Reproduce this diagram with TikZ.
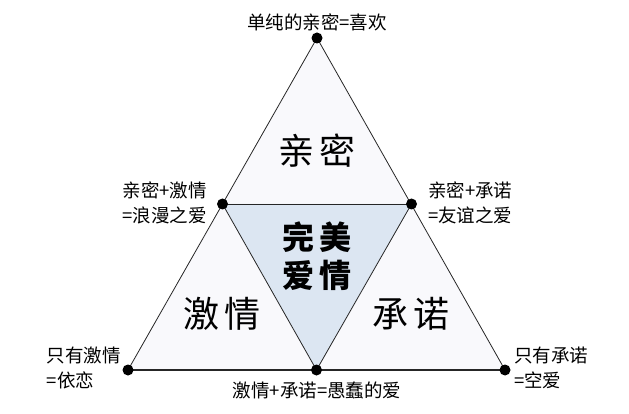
\documentclass[tikz,border=0pt]{standalone}
\usepackage{fontspec}
\setmainfont{Noto Sans CJK SC}
\usepackage{tikz}
\usetikzlibrary{positioning}

\definecolor{corefill}{RGB}{220,230,242}
\definecolor{outerfill}{RGB}{249,249,252}

\begin{document}
\begin{tikzpicture}[
    x=1pt, y=-1pt,
    dot/.style={circle, fill=black, inner sep=0pt, minimum size=11pt},
    edge/.style={draw=black!85, line width=0.8pt},
    note/.style={font=\fontsize{18.5}{25}\selectfont, align=left, inner sep=0pt},
    part/.style={font=\fontsize{36}{40}\selectfont, inner sep=0pt},
    core/.style={font=\bfseries\fontsize{32}{40}\selectfont, align=center, inner sep=0pt}
]
    \useasboundingbox (0,0) rectangle (629,414);

    % Corners and midpoints
    \coordinate (top) at (317,38);
    \coordinate (bl) at (128,370);
    \coordinate (br) at (505,370);
    \coordinate (ml) at (222.5,204);
    \coordinate (mr) at (411.5,204);
    \coordinate (mb) at (316.5,370);

    % Triangles
    \fill[outerfill] (top) -- (bl) -- (br) -- cycle;
    \fill[corefill] (ml) -- (mr) -- (mb) -- cycle;
    \draw[edge] (top) -- (bl);
    \draw[edge] (top) -- (br);
    \draw[edge, line width=1.3pt] (bl) -- (br);
    \draw[edge] (ml) -- (mr);
    \draw[edge] (ml) -- (mb);
    \draw[edge] (mr) -- (mb);

    % Dots
    \foreach \p in {top,bl,br,ml,mr,mb}
        \node[dot] (d\p) at (\p) {};

    % Parts
    \node[part] (intimacy) at (317,151) {亲\,密};
    \node[part] (passion) at (222,314) {激\,情};
    \node[part] (commit) at (411,314) {承\,诺};
    \node[core] (love) at (317,256) {完\,美\\[-2pt]爱\,情};

    % Notes
    \node[note] (liking) at (317,22) {单纯的亲密=喜欢};
    \node[note, anchor=east] (romantic) at (207,203) {亲密+激情\\=浪漫之爱};
    \node[note, anchor=west] (companion) at (428,203) {亲密+承诺\\=友谊之爱};
    \node[note, anchor=east] (infatuation) at (121,368) {只有激情\\=依恋};
    \node[note, anchor=west] (empty) at (514,368) {只有承诺\\=空爱};
    \node[note] (fatuous) at (317,390) {激情+承诺=愚蠢的爱};
\end{tikzpicture}
\end{document}
